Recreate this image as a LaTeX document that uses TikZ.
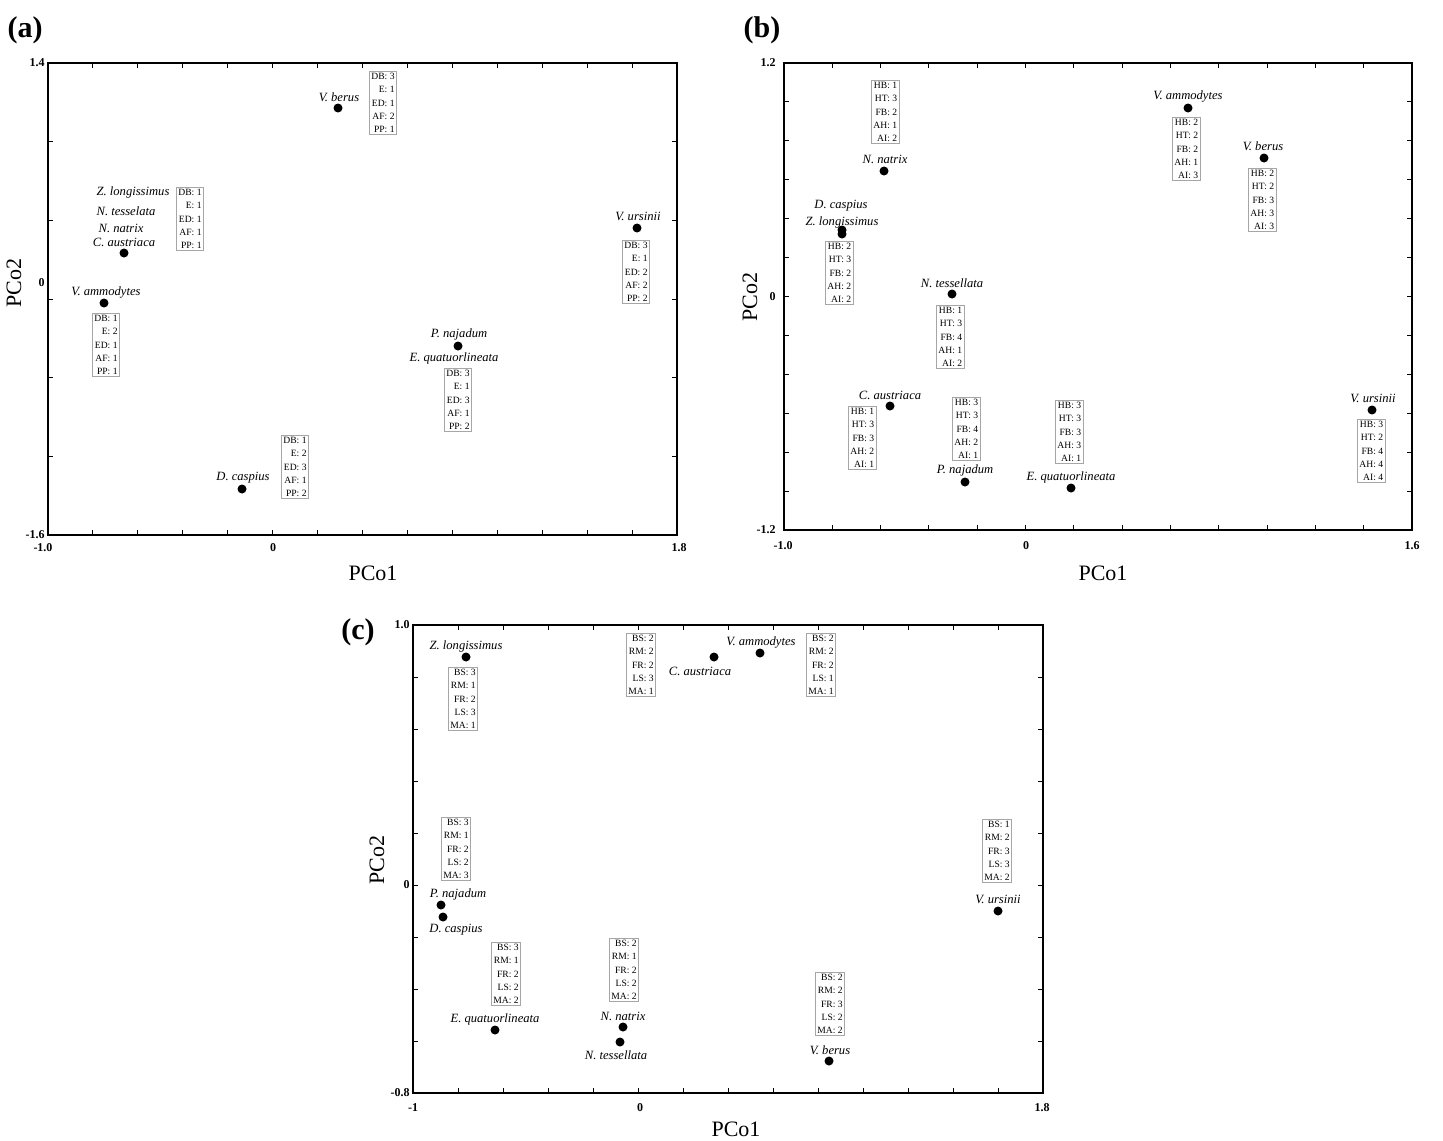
\documentclass[tikz,border=0pt]{standalone}
\usepackage{fontspec}
\setmainfont{Liberation Serif}
\begin{document}
\begin{tikzpicture}[x=0.5pt,y=-0.5pt,
 dot/.style={circle,fill=black,inner sep=0pt,minimum size=4.5pt},
 lab/.style={font=\fontsize{6.3}{7}\selectfont\itshape,inner sep=0pt},
 tick/.style={font=\fontsize{6}{7}\selectfont\bfseries,inner sep=0pt},
 bx/.style={draw=gray!70,line width=0.4pt,anchor=north west,inner sep=1pt,align=right,font=\fontsize{4.8}{6.6}\selectfont},
 axl/.style={font=\fontsize{11}{12}\selectfont,inner sep=0pt},
 pl/.style={font=\fontsize{15}{16}\selectfont\bfseries,inner sep=0pt}]
\useasboundingbox (0,0) rectangle (1443,1140);
\newcommand{\frameticks}[6]{%
 \draw[line width=0.6pt] (#1,#2) rectangle (#3,#4);
 \foreach \i in {1,...,#5}{\pgfmathsetmacro\xx{#1+(#3-#1)*\i/(#5+1)}
  \draw[line width=0.5pt] (\xx,#2)--++(0,5) (\xx,#4)--++(0,-5);}
 \foreach \i in {1,...,#6}{\pgfmathsetmacro\yy{#2+(#4-#2)*\i/(#6+1)}
  \draw[line width=0.5pt] (#1,\yy)--++(5,0) (#3,\yy)--++(-5,0);}}
\frameticks{48}{63}{677}{535}{13}{5}
\frameticks{784}{63}{1412}{530}{12}{11}
\frameticks{413}{625}{1043}{1093}{13}{8}
% panel a
\node[pl] (pa) at (25,30) {(a)};
\node[tick,anchor=east] (a1) at (45,63) {1.4};
\node[tick,anchor=east] (a2) at (45,283) {0};
\node[tick,anchor=east] (a3) at (45,535) {-1.6};
\node[tick] (a4) at (43,548) {-1.0};
\node[tick] (a5) at (273,548) {0};
\node[tick] (a6) at (679,548) {1.8};
\node[axl] (ax) at (373,573) {PCo1};
\node[axl,rotate=90] (ay) at (14,283) {PCo2};
\node[dot] (aberus) at (338,108) {}; \node[lab] (laberus) at (339,97) {V. berus};
\node[bx] (bab) at (369,71) {DB: 3\\E: 1\\ED: 1\\AF: 2\\PP: 1};
\node[dot] (acaus) at (124,253) {};
\node[lab] (l1) at (133,192) {Z. longissimus};
\node[lab] (l2) at (126,211) {N. tesselata};
\node[lab] (l3) at (121,228) {N. natrix};
\node[lab] (l4) at (124,242) {C. austriaca};
\node[bx] (bac) at (176,187) {DB: 1\\E: 1\\ED: 1\\AF: 1\\PP: 1};
\node[dot] (aamm) at (104,303) {}; \node[lab] (lamm) at (106,292) {V. ammodytes};
\node[bx] (baa) at (92,313) {DB: 1\\E: 2\\ED: 1\\AF: 1\\PP: 1};
\node[dot] (aurs) at (637,228) {}; \node[lab] (laurs) at (638,216) {V. ursinii};
\node[bx] (bau) at (622,240) {DB: 3\\E: 1\\ED: 2\\AF: 2\\PP: 2};
\node[dot] (anaj) at (458,346) {}; \node[lab] (lanaj) at (459,334) {P. najadum};
\node[lab] (laeq) at (454,358) {E. quatuorlineata};
\node[bx] (ban) at (444,368) {DB: 3\\E: 1\\ED: 3\\AF: 1\\PP: 2};
\node[dot] (adc) at (242,489) {}; \node[lab] (ladc) at (243,478) {D. caspius};
\node[bx] (bad) at (281,435) {DB: 1\\E: 2\\ED: 3\\AF: 1\\PP: 2};
% panel b
\node[pl] (pb) at (762,30) {(b)};
\node[tick,anchor=east] (b1) at (776,63) {1.2};
\node[tick,anchor=east] (b2) at (776,297) {0};
\node[tick,anchor=east] (b3) at (776,530) {-1.2};
\node[tick] (b4) at (783,546) {-1.0};
\node[tick] (b5) at (1026,546) {0};
\node[tick] (b6) at (1412,546) {1.6};
\node[axl] (bxl) at (1103,573) {PCo1};
\node[axl,rotate=90] (byl) at (750,297) {PCo2};
\node[dot] (bnn) at (884,171) {}; \node[lab] (lbnn) at (885,159) {N. natrix};
\node[bx] (bbn) at (871,80) {HB: 1\\HT: 3\\FB: 2\\AH: 1\\AI: 2};
\node[dot] (bdc) at (842,230) {}; \node[dot] (bzl) at (842,234) {};
\node[lab] (lbdc) at (841,206) {D. caspius}; \node[lab] (lbzl) at (842,222) {Z. longissimus};
\node[bx] (bbd) at (825,241) {HB: 2\\HT: 3\\FB: 2\\AH: 2\\AI: 2};
\node[dot] (bnt) at (952,294) {}; \node[lab] (lbnt) at (952,283) {N. tessellata};
\node[bx] (bbt) at (936,305) {HB: 1\\HT: 3\\FB: 4\\AH: 1\\AI: 2};
\node[dot] (bca) at (890,406) {}; \node[lab] (lbca) at (890,395) {C. austriaca};
\node[bx] (bbc) at (848,406) {HB: 1\\HT: 3\\FB: 3\\AH: 2\\AI: 1};
\node[dot] (bpn) at (965,482) {}; \node[lab] (lbpn) at (965,470) {P. najadum};
\node[bx] (bbp) at (952,397) {HB: 3\\HT: 3\\FB: 4\\AH: 2\\AI: 1};
\node[dot] (beq) at (1071,488) {}; \node[lab] (lbeq) at (1071,477) {E. quatuorlineata};
\node[bx] (bbe) at (1055,400) {HB: 3\\HT: 3\\FB: 3\\AH: 3\\AI: 1};
\node[dot] (bva) at (1188,108) {}; \node[lab] (lbva) at (1188,96) {V. ammodytes};
\node[bx] (bbva) at (1172,117) {HB: 2\\HT: 2\\FB: 2\\AH: 1\\AI: 3};
\node[dot] (bvb) at (1264,158) {}; \node[lab] (lbvb) at (1263,146) {V. berus};
\node[bx] (bbvb) at (1248,168) {HB: 2\\HT: 2\\FB: 3\\AH: 3\\AI: 3};
\node[dot] (bvu) at (1372,410) {}; \node[lab] (lbvu) at (1373,398) {V. ursinii};
\node[bx] (bbvu) at (1357,419) {HB: 3\\HT: 2\\FB: 4\\AH: 4\\AI: 4};
% panel c
\node[pl] (pc) at (358,632) {(c)};
\node[tick,anchor=east] (c1) at (410,625) {1.0};
\node[tick,anchor=east] (c2) at (410,885) {0};
\node[tick,anchor=east] (c3) at (410,1093) {-0.8};
\node[tick] (c4) at (413,1108) {-1};
\node[tick] (c5) at (640,1108) {0};
\node[tick] (c6) at (1042,1108) {1.8};
\node[axl] (cxl) at (736,1129) {PCo1};
\node[axl,rotate=90] (cyl) at (377,860) {PCo2};
\node[dot] (czl) at (466,657) {}; \node[lab] (lczl) at (466,646) {Z. longissimus};
\node[bx] (bcz) at (448,667) {BS: 3\\RM: 1\\FR: 2\\LS: 3\\MA: 1};
\node[dot] (cca) at (714,657) {}; \node[lab] (lcca) at (700,671) {C. austriaca};
\node[bx] (bcc) at (626,633) {BS: 2\\RM: 2\\FR: 2\\LS: 3\\MA: 1};
\node[dot] (cva) at (760,653) {}; \node[lab] (lcva) at (761,642) {V. ammodytes};
\node[bx] (bcva) at (806,633) {BS: 2\\RM: 2\\FR: 2\\LS: 1\\MA: 1};
\node[bx] (bcp) at (441,817) {BS: 3\\RM: 1\\FR: 2\\LS: 2\\MA: 3};
\node[dot] (cpn) at (441,905) {}; \node[lab] (lcpn) at (458,894) {P. najadum};
\node[dot] (cdc) at (443,917) {}; \node[lab] (lcdc) at (456,930) {D. caspius};
\node[dot] (ceq) at (495,1030) {}; \node[lab] (lceq) at (495,1019) {E. quatuorlineata};
\node[bx] (bce) at (491,942) {BS: 3\\RM: 1\\FR: 2\\LS: 2\\MA: 2};
\node[dot] (cnn) at (623,1027) {}; \node[lab] (lcnn) at (623,1016) {N. natrix};
\node[dot] (cnt) at (620,1042) {}; \node[lab] (lcnt) at (616,1055) {N. tessellata};
\node[bx] (bcn) at (609,938) {BS: 2\\RM: 1\\FR: 2\\LS: 2\\MA: 2};
\node[dot] (cvb) at (829,1061) {}; \node[lab] (lcvb) at (830,1050) {V. berus};
\node[bx] (bcvb) at (815,972) {BS: 2\\RM: 2\\FR: 3\\LS: 2\\MA: 2};
\node[dot] (cvu) at (998,911) {}; \node[lab] (lcvu) at (998,899) {V. ursinii};
\node[bx] (bcvu) at (982,819) {BS: 1\\RM: 2\\FR: 3\\LS: 3\\MA: 2};
\end{tikzpicture}
\end{document}
